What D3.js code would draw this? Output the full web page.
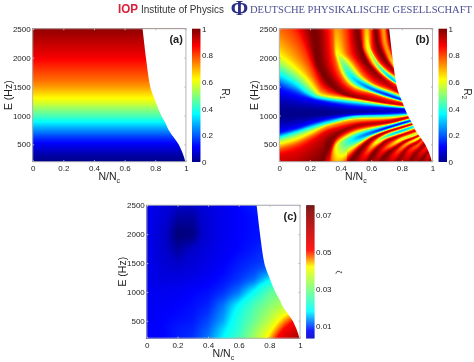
<!DOCTYPE html>
<html><head><meta charset="utf-8">
<script src="https://cdn.jsdelivr.net/npm/d3@7"></script>
<style>
html,body{margin:0;padding:0;background:#fff;overflow:hidden}
#c{position:absolute;left:0;top:0;filter:blur(0.6px)}
#s{position:absolute;left:0;top:0}
text{font-family:"Liberation Sans",Arial,sans-serif;fill:#222}
</style></head><body>
<canvas id="c" width="474" height="362"></canvas>
<svg id="s" width="474" height="362"></svg>
<script>
// ---- tick labels ----
const nTicks=[0,.2,.4,.6,.8,1];
const eTicks=[500,1000,1500,2000,2500];
const rTicks=[0,.2,.4,.6,.8,1];
const zTicks=[.01,.03,.05,.07];
// ---- accessible-region edge, shared by the three panels ----
const edgeE=[2500,2000,1500,1250,1000,875,750,625,500,300,200];
const edgeN=[.717,.739,.767,.80,.839,.865,.887,.919,.952,.985,.996];
// ---- panel (a): R1 against E ----
const aE=[200,300,400,500,600,700,800,900,1000,1100,1200,1300,1400,1500,1600,1800,2000,2200,2400,2500];
const aR=[0,.02,.06,.10,.15,.22,.29,.37,.44,.5,.57,.62,.67,.72,.76,.82,.88,.92,.96,.98];
const T0=[[0,1020,0],[.3,1040,0],[.5,1060,.02],[.7,1075,.05],[.9,1090,.1]];
const U12=[[0,1450,.12],[.13,1330,.12],[.25,1250,.12],[.5,1150,.12],[.7,1125,.12],[.88,1105,.12]];
const U35=[[0,1700,.35],[.11,1540,.35],[.175,1405,.35],[.25,1310,.35],[.52,1215,.35],[.7,1160,.35],[.88,1115,.35]];
const U50=[[0,1880,.5],[.11,1680,.5],[.18,1510,.5],[.26,1340,.5],[.52,1240,.5],[.7,1175,.5],[.88,1125,.5]];
const U65=[[0,2114,.65],[.11,1855,.65],[.19,1630,.65],[.27,1370,.65],[.29,1353,.65],[.52,1267,.65],[.7,1190,.65],[.88,1135,.65]];
const U80=[[0,2700,.82],[.085,2500,.82],[.15,2200,.82],[.2,1900,.82],[.28,1480,.82],[.34,1390,.82],[.52,1285,.82],[.7,1205,.82],[.88,1145,.82]];
const C1=[[0,3500,1],[.1,3100,1],[.2,2620,1],[.226,2500,1],[.25,1930,1],[.31,1630,1],[.42,1370,.98],[.52,1305,.96],[.6,1265,.94],[.72,1215,.92],[.88,1155,.9]];
const F1a=[[.3,3000,.8],[.345,2500,.8],[.35,2150,.8],[.365,1900,.8],[.42,1580,.8],[.5,1430,.8],[.6,1370,.8],[.72,1275,.8],[.88,1180,.8]];
const T1=[[.2,4000,.9],[.3,3100,.85],[.37,2500,.72],[.375,2100,.62],[.41,1930,.5],[.47,1680,.35],[.59,1470,.22],[.72,1340,.15],[.8,1270,.15],[.9,1200,.15]];
const F1b=[[.4,3000,.8],[.43,2500,.8],[.45,2100,.8],[.5,1900,.8],[.56,1690,.8],[.62,1560,.8],[.72,1450,.8],[.88,1265,.8]];
const C2=[[.33,3500,1],[.45,2800,1],[.513,2500,1],[.526,2275,1],[.56,1975,1],[.624,1750,.98],[.71,1545,.94],[.767,1425,.92],[.88,1300,.9]];
const F2a=[[.52,3000,.8],[.545,2500,.8],[.55,2200,.8],[.59,1950,.8],[.64,1780,.8],[.72,1600,.8],[.88,1360,.8]];
const T2=[[.45,3800,.8],[.55,2700,.72],[.57,2500,.68],[.575,2275,.62],[.61,2030,.55],[.656,1840,.45],[.735,1630,.3],[.775,1560,.3],[.88,1420,.3]];
const F2b=[[.56,3300,.8],[.595,2500,.8],[.6,2200,.8],[.64,1970,.8],[.7,1800,.8],[.88,1480,.8]];
const C3=[[.52,3500,1],[.6,2700,1],[.626,2500,1],[.64,2275,1],[.68,2010,1],[.74,1800,.95],[.775,1700,.92],[.88,1530,.9]];
const T3=[[.57,3500,.8],[.66,2700,.75],[.68,2500,.72],[.69,2275,.72],[.72,2030,.7],[.74,1925,.66],[.8,1700,.6],[.9,1520,.6]];
const C4=[[.63,3500,1],[.7,2700,1],[.71,2500,1],[.735,2150,.98],[.76,2000,.95],[.8,1850,.92],[.9,1650,.9]];
const L12=[[0,713,.12],[.13,800,.12],[.21,870,.12],[.32,945,.12],[.5,1015,.12],[.7,1030,.14],[.88,1055,.16]];
const L35=[[0,626,.35],[.11,713,.35],[.21,800,.35],[.32,885,.35],[.52,990,.35],[.7,1000,.35],[.88,1030,.35]];
const L50=[[0,570,.5],[.11,660,.5],[.21,755,.5],[.32,850,.5],[.52,960,.5],[.7,975,.5],[.88,1020,.5]];
const L65=[[0,490,.65],[.11,575,.65],[.21,696,.65],[.32,833,.65],[.52,940,.65],[.7,950,.65],[.88,1010,.65]];
const L80=[[0,400,.8],[.11,490,.8],[.21,620,.8],[.32,770,.8],[.52,890,.8],[.7,925,.8],[.88,1003,.8]];
const L90=[[0,285,.9],[.11,360,.9],[.21,520,.9],[.32,720,.9],[.39,770,.9],[.52,860,.9],[.7,900,.9],[.88,997,.9]];
const CL1=[[0,-600,1],[.2,50,1],[.26,200,1],[.32,490,1],[.39,696,.98],[.52,833,.95],[.72,885,.93],[.8,935,.92],[.88,990,.9]];
const TL1=[[.3,100,.9],[.33,200,.84],[.35,350,.72],[.37,455,.62],[.43,540,.45],[.52,627,.28],[.6,696,.2],[.71,790,.12],[.8,865,.12],[.88,925,.2]];
const CL2=[[.33,-500,1],[.44,100,1],[.487,285,1],[.52,390,1],[.6,590,.97],[.7,715,.94],[.8,795,.92],[.88,860,.9],[.95,930,.9]];
const TL2=[[.44,-300,.95],[.5,150,.95],[.56,343,.85],[.62,510,.65],[.69,630,.45],[.75,690,.33],[.81,745,.3],[.88,815,.35],[.92,860,.45]];
const CL3=[[.48,-300,1],[.56,100,1],[.6,300,1],[.65,450,.98],[.7,560,.96],[.75,615,.94],[.8,660,.92],[.88,735,.9],[.93,790,.9]];
const TL3=[[.54,-300,.95],[.62,200,.95],[.675,401,.85],[.73,488,.72],[.8,590,.58],[.88,660,.55],[.93,720,.6]];
const CL4=[[.58,-300,1],[.64,100,1],[.7,330,1],[.755,435,.97],[.82,550,.94],[.905,645,.9],[.95,715,.9]];
const TL4=[[.63,-300,.95],[.7,200,.95],[.755,343,.85],[.82,488,.72],[.905,603,.6],[.95,680,.7]];
const CL5=[[.66,-300,1],[.75,100,1],[.8,320,.98],[.85,465,.95],[.905,545,.92],[.94,625,.9]];
const TL5=[[.74,-300,.95],[.8,230,.95],[.85,401,.85],[.905,488,.78],[.935,574,.8],[.97,650,.85]];
const CL6=[[.76,-300,1],[.84,100,1],[.88,320,.98],[.92,420,.96],[.96,520,.95]];
const TL6=[[.82,-300,.95],[.89,220,.95],[.92,340,.9],[.96,440,.85],[.985,520,.85]];
const CL7=[[.84,-300,1],[.9,100,1],[.95,300,.98],[.98,380,.96],[1,430,.95]];
const TL7=[[.9,-300,.95],[.95,220,.95],[.97,310,.9],[1,420,.88]];
const CL8=[[.93,-300,1],[.97,100,1],[.99,250,1],[1,300,1]];
const fringeLines=[T0,U12,U35,U50,U65,U80,C1,F1a,T1,F1b,C2,F2a,T2,F2b,C3,T3,C4,L12,L35,L50,L65,L80,L90,CL1,TL1,CL2,TL2,CL3,TL3,CL4,TL4,CL5,TL5,CL6,TL6,CL7,TL7,CL8];
const upperLines=[U35,U50,U65,U80,C1,F1a,T1,F1b,C2,F2a,T2,F2b,C3,T3,C4];
// ---- panel (c): grid, values x 1000 ----
const cN=[0,.1,.2,.3,.4,.5,.6,.7,.8,.9,1];
const cE=[200,350,500,750,1000,1250,1500,1750,2000,2250,2500];
const cV=[
[7,7,8,9,12,17.5,24,33,44,58,68],
[7,7,8,8.5,11,16,22,31,40,52,60],
[6.5,7,7.5,8,10,14,21,28,36,46,54],
[6.5,6.5,7,7.5,8.5,12,18,25,31,36,40],
[6.2,6,6.2,7,7.5,9,12,18,26,30,30],
[6,5,5,5.5,6.5,7.5,9,11,16,20,20],
[6,4.5,3.5,4.5,5.5,6.8,8,9,10,12,12],
[6,4,2.5,3.5,5,6.2,7.2,8,9,9,9],
[6,4,1.8,2,4.5,6,7,7.5,8,8,8],
[6,4.5,2.5,2.5,4.5,6,7,7.5,8,8,8],
[6,5,3.5,3.5,5,6,7,8,9,9,9]];
// ---- colour stops ----
const jetAt=[0,.11,.36,.62,.87,1];
const jetCol=["#00008c","#0000ff","#00ffff","#ffff00","#ff0000","#7c0000"];
const cAt=[.001,.0035,.007,.0176,.03,.042,.051,.072,.0755];
const cCol=["#00005a","#0000c8","#0000ff","#00ffff","#7fff7f","#ffff00","#ff0000","#8a0000","#5c0000"];
// ---- helpers ----
function mono(xs,ys){
  const n=xs.length;
  if(n===1)return()=>ys[0];
  const d=[],m=new Array(n);
  for(let i=0;i<n-1;i++)d.push((ys[i+1]-ys[i])/(xs[i+1]-xs[i]));
  m[0]=d[0];m[n-1]=d[n-2];
  for(let i=1;i<n-1;i++)m[i]=d[i-1]*d[i]<=0?0:2*d[i-1]*d[i]/(d[i-1]+d[i]);
  return x=>{
    if(x<=xs[0])return ys[0];
    if(x>=xs[n-1])return ys[n-1];
    let i=d3.bisectRight(xs,x)-1;
    const h=xs[i+1]-xs[i],t=(x-xs[i])/h,t2=t*t,t3=t2*t;
    return (2*t3-3*t2+1)*ys[i]+(t3-2*t2+t)*h*m[i]+(-2*t3+3*t2)*ys[i+1]+(t3-t2)*h*m[i+1];
  };
}
const jet=d3.scaleLinear().domain(jetAt).range(jetCol).clamp(true);
const jetC=d3.scaleLinear().domain(cAt).range(cCol).clamp(true);
const svg=d3.select("#s");
const ctx=document.getElementById("c").getContext("2d");
ctx.fillStyle="#fff";ctx.fillRect(0,0,474,362);
const gray="#b4b4b4";

function paint(xs,ys,colorAt){
  const [x0,x1]=xs.range(),[y1,y0]=ys.range();
  const X0=Math.floor(x0),X1=Math.ceil(x1),Y0=Math.floor(y0),Y1=Math.ceil(y1);
  const img=ctx.createImageData(X1-X0,Y1-Y0);
  for(let px=X0;px<X1;px++){
    const f=colorAt(Math.min(1,Math.max(0,xs.invert(px+.5))));
    for(let py=Y0;py<Y1;py++){
      const c=d3.color(f(Math.min(2500,Math.max(200,ys.invert(py+.5)))));
      const k=4*((py-Y0)*(X1-X0)+(px-X0));
      img.data[k]=c.r;img.data[k+1]=c.g;img.data[k+2]=c.b;img.data[k+3]=255;
    }
  }
  ctx.putImageData(img,X0,Y0);
}

function panel(cfg){
  const xs=d3.scaleLinear().domain([0,1]).range([cfg.l,cfg.l+153.2]);
  const ys=d3.scaleLinear().domain([200,2500]).range([cfg.t+133,cfg.t]);
  paint(xs,ys,cfg.field);
  const g=svg.append("g");
  // white region beyond the edge
  const edgeFn=mono(edgeE.slice().reverse(),edgeN.slice().reverse());
  const es=d3.range(200,2501,25);
  g.append("path").datum(es).attr("fill","#fff")
    .attr("d",d3.area().y(e=>ys(e)).x0(e=>xs(edgeFn(e))).x1(xs(1)+.5)(es));
  // frame
  g.append("rect").attr("x",xs(0)).attr("y",ys(2500)).attr("width",xs(1)-xs(0)).attr("height",ys(200)-ys(2500))
    .attr("fill","none").attr("stroke",gray);
  const ax=g.append("g").attr("transform",`translate(0,${ys(200)})`)
    .call(d3.axisBottom(xs).tickValues(nTicks).tickSizeInner(-1.5).tickSizeOuter(0).tickPadding(4).tickFormat(d=>d3.format("~g")(d)));
  const ay=g.append("g").attr("transform",`translate(${xs(0)},0)`)
    .call(d3.axisLeft(ys).tickValues(eTicks).tickSizeInner(-1.5).tickSizeOuter(0).tickPadding(2).tickFormat(d3.format("d")));
  const ar=g.append("g").attr("transform",`translate(${xs(1)},0)`)
    .call(d3.axisRight(ys).tickValues(eTicks).tickSizeInner(-1.5).tickSizeOuter(0).tickFormat(""));
  const at=g.append("g").attr("transform",`translate(0,${ys(2500)})`)
    .call(d3.axisTop(xs).tickValues(nTicks).tickSizeInner(-1.5).tickSizeOuter(0).tickFormat(""));
  [ax,ay,ar,at].forEach(a=>{a.select(".domain").remove();a.selectAll("line").attr("stroke",gray);a.selectAll("text").attr("font-size",8).attr("font-family","Liberation Sans").attr("fill","#222");});
  // axis titles
  g.append("text").attr("x",xs(0)-cfg.ylab).attr("y",ys(1350)).attr("text-anchor","middle").attr("dominant-baseline","central")
    .attr("font-size",10.5).attr("transform",`rotate(-90 ${xs(0)-cfg.ylab} ${ys(1350)})`).text("E (Hz)");
  const xt=g.append("text").attr("x",(xs(0)+xs(1))/2).attr("y",ys(200)+18.5).attr("text-anchor","middle").attr("font-size",10.5);
  xt.append("tspan").text("N/N");
  xt.append("tspan").attr("dy",3).attr("font-size",7).text("c");
  g.append("text").attr("x",xs(1)-3).attr("y",ys(2500)+14.5).attr("text-anchor","end").attr("font-size",11).attr("font-weight","bold").text(cfg.tag);
  // colour bar
  const bx=cfg.l+159.3,bw=8.4;
  const bs=d3.scaleLinear().domain(cfg.barDomain).range([ys(200),ys(2500)]);
  const rows=d3.range(ys(2500),ys(200),1);
  g.append("g").selectAll("rect").data(rows).join("rect")
    .attr("x",bx).attr("width",bw).attr("y",d=>d).attr("height",1.3)
    .attr("fill",d=>cfg.barColor(bs.invert(d+.5)));
  const ab=g.append("g").attr("transform",`translate(${bx+bw},0)`)
    .call(d3.axisRight(bs).tickValues(cfg.barTicks).tickSizeInner(0).tickSizeOuter(0).tickPadding(1.5).tickFormat(d=>d3.format("~g")(d)));
  ab.select(".domain").remove();
  ab.selectAll("text").attr("font-size",8).attr("font-family","Liberation Sans").attr("fill","#222");
  // colour bar title
  const lx=cfg.l+cfg.zx,ly=cfg.zy;
  const zt=g.append("text").attr("x",lx).attr("y",ly).attr("text-anchor","middle").attr("transform",`rotate(90 ${lx} ${ly})`).attr("font-size",cfg.zs);
  zt.append("tspan").text(cfg.zlab);
  if(cfg.zsub){zt.append("tspan").attr("dy",2).attr("font-size",6.5).text(cfg.zsub);}
}

// panel (a)
const aScale=d3.scaleLinear().domain(aE).range(aR).clamp(true);
panel({l:32.7,t:28.7,ylab:25,tag:"(a)",barDomain:[0,1],barTicks:rTicks,barColor:jet,zx:189,zy:94,zs:10,zlab:"R",zsub:"1",
  field:()=>e=>jet(aScale(e))});

// panel (b)
const lineFns=fringeLines.map(l=>{
  const ns=l.map(p=>p[0]);
  return {n0:ns[0],n1:ns[ns.length-1],E:mono(ns,l.map(p=>p[1])),v:mono(ns,l.map(p=>p[2]))};
});
function columnField(n){
  const k=lineFns.filter(f=>n>=f.n0&&n<=f.n1).map(f=>[f.E(n),f.v(n)]).sort((a,b)=>a[0]-b[0]);
  const xs=[],ys=[];
  k.forEach(p=>{if(!xs.length||p[0]>xs[xs.length-1]+.5){xs.push(p[0]);ys.push(p[1]);}});
  return mono(xs,ys);
}
const col0=columnField(0);
const rowFns=upperLines.map(l=>{
  const r=l.slice().reverse(),es=r.map(p=>p[1]);
  return {e0:es[0],e1:es[es.length-1],N:mono(es,r.map(p=>p[0])),v:mono(es,r.map(p=>p[2]))};
});
const rowCache=new Map();
function rowField(e){
  if(rowCache.has(e))return rowCache.get(e);
  const k=rowFns.filter(f=>e>=f.e0&&e<=f.e1).map(f=>[f.N(e),f.v(e)]).sort((a,b)=>a[0]-b[0]);
  const xs=[0],ys=[col0(e)];
  k.forEach(p=>{if(p[0]>xs[xs.length-1]+.002){xs.push(p[0]);ys.push(p[1]);}});
  const f=mono(xs,ys);
  rowCache.set(e,f);
  return f;
}
const blend=d3.scaleLinear().domain([1450,1650]).range([0,1]).clamp(true);
panel({l:279.3,t:28.7,ylab:25,tag:"(b)",barDomain:[0,1],barTicks:rTicks,barColor:jet,zx:185,zy:94,zs:10,zlab:"R",zsub:"2",
  field:n=>{
    const f=columnField(n);
    return e=>{
      const w=blend(e);
      const v=w>0?w*rowField(e)(n)+(1-w)*f(e):f(e);
      return jet(Math.max(0,Math.min(1,v)));
    };
  }});

// panel (c)
function cField(n){
  const i=Math.min(cN.length-2,d3.bisectRight(cN,n)-1),t=(n-cN[i])/(cN[i+1]-cN[i]);
  const col=cE.map((_,r)=>(cV[r][i]*(1-t)+cV[r][i+1]*t)/1000);
  return mono(cE,col);
}
panel({l:146.8,t:205.2,ylab:25,tag:"(c)",barDomain:[.0031,.0755],barTicks:zTicks,barColor:jetC,zx:190,zy:272,zs:7,zlab:"ζ",zsub:"",
  field:n=>{const f=cField(n);return e=>jetC(f(e));}});

// header
const h=svg.append("g");
h.append("text").attr("x",118).attr("y",13).attr("font-size",12).attr("font-weight","bold").style("fill","#d8203a").attr("textLength",20).attr("lengthAdjust","spacingAndGlyphs").text("IOP");
h.append("text").attr("x",141).attr("y",13).attr("font-size",11.5).style("fill","#333").attr("textLength",83).attr("lengthAdjust","spacingAndGlyphs").text("Institute of Physics");
h.append("text").attr("x",239.5).attr("y",15).attr("text-anchor","middle").attr("font-size",21).attr("font-weight","bold").style("font-family","Liberation Serif").style("fill","#2a2f85").text("Φ");
h.append("text").attr("x",250).attr("y",13).attr("font-size",11).style("font-family","Liberation Serif").style("fill","#4c4f92").attr("textLength",222).attr("lengthAdjust","spacingAndGlyphs").text("DEUTSCHE PHYSIKALISCHE GESELLSCHAFT");
</script>
</body></html>
